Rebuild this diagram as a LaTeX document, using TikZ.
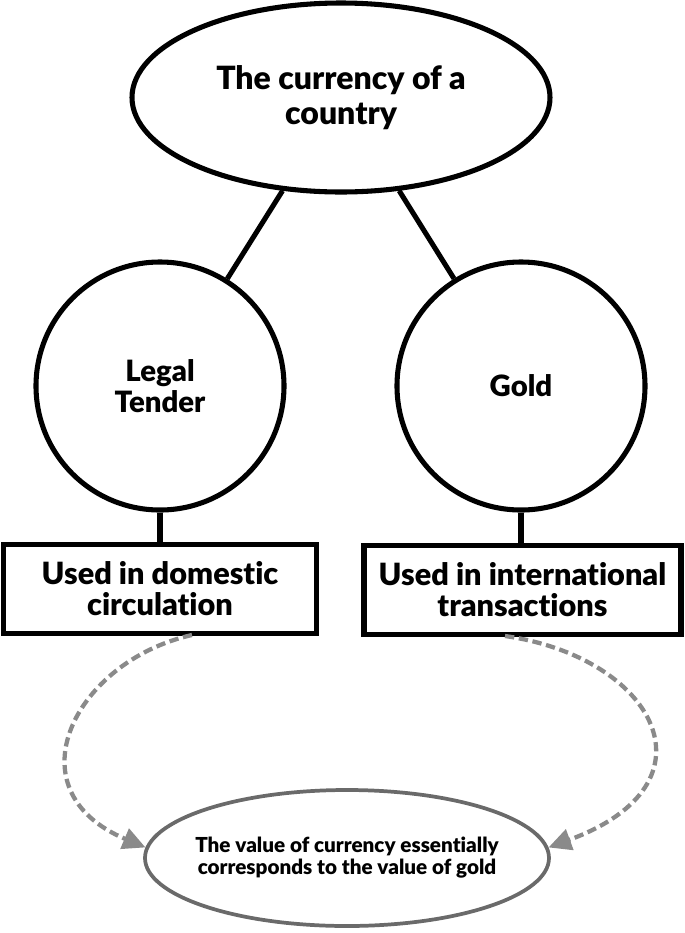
\documentclass[tikz,border=0pt]{standalone}
\usepackage{fontspec}
\setmainfont{Lato}[Ligatures=NoCommon, BoldFont={Lato Black}]
\usetikzlibrary{shapes.geometric,arrows.meta}
\definecolor{dashgray}{HTML}{8A8A8A}
\definecolor{ringgray}{HTML}{6A6A6A}
\tikzset{
  topell/.style={ellipse, draw=black, line width=3.8pt, inner sep=0pt,
    minimum width=313.5pt, minimum height=141.75pt, align=center,
    font=\fontsize{24}{26}\selectfont\bfseries},
  bigcirc/.style={circle, draw=black, line width=3.8pt, inner sep=0pt,
    minimum size=186pt, align=center,
    font=\fontsize{22}{23.5}\selectfont\bfseries},
  usebox/.style={rectangle, draw=black, line width=3.8pt, inner sep=0pt,
    minimum height=66.75pt, align=center,
    font=\fontsize{23}{23.25}\selectfont\bfseries},
  valell/.style={ellipse, draw=ringgray, line width=2.8pt, inner sep=-30pt,
    minimum width=303pt, minimum height=102pt, align=center,
    font=\fontsize{15.5}{16.5}\selectfont\bfseries},
  link/.style={draw=black, line width=3.8pt},
  dasharrow/.style={draw=dashgray, line width=3.2pt, dash pattern=on 7pt off 3.5pt,
    -{Triangle[length=17pt,width=16pt]}}
}
\begin{document}
\begin{tikzpicture}[x=0.75pt,y=-0.75pt]
\useasboundingbox (0,0) rectangle (685,933);
\node[topell] (top) at (341,97.5) {The currency of a\\country};
\node[bigcirc] (legal) at (160,386) {Legal\\Tender};
\node[bigcirc] (gold) at (521,386) {Gold};
\node[usebox, minimum width=235pt] (dom) at (160,589) {Used in domestic\\circulation};
\node[usebox, minimum width=237.75pt] (intl) at (522.5,590) {Used in international\\transactions};
\node[valell] (val) at (347,858) {The value of currency essentially\\corresponds to the value of gold};
\draw[link] (top) -- (legal);
\draw[link] (top) -- (gold);
\draw[link] (legal) -- (dom.north -| legal);
\draw[link] (gold) -- (intl.north -| gold);
\coordinate (ls) at (192,635);
\coordinate (rs) at (505,636);
\draw[dasharrow] (ls) .. controls (75,661) and (9,790) .. (val.177);
\draw[dasharrow] (rs) .. controls (653.5,657) and (724,783) .. (val.3);
\end{tikzpicture}
\end{document}
